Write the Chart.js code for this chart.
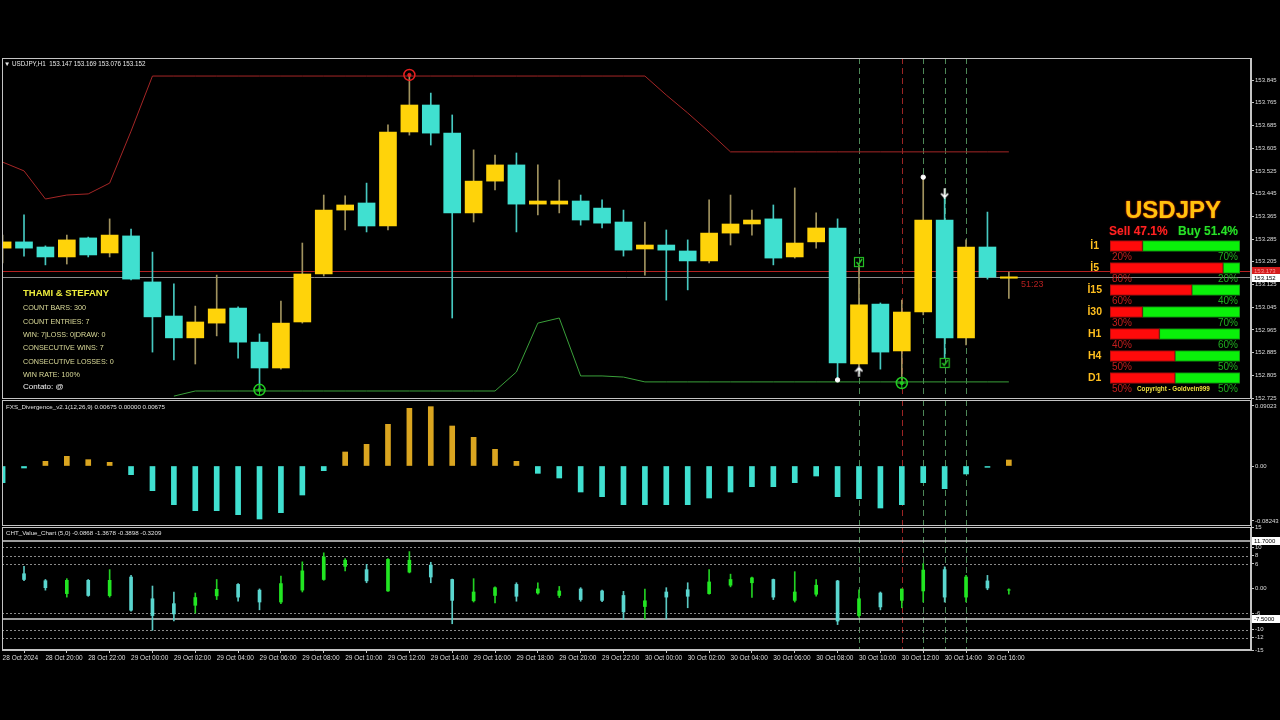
<!DOCTYPE html>
<html>
<head>
<meta charset="utf-8">
<title>USDJPY,H1</title>
<script src="https://cdn.jsdelivr.net/npm/chart.js@4.4.1/dist/chart.umd.min.js"></script>
<style>
  html, body { margin: 0; padding: 0; background: #000; width: 1280px; height: 720px; overflow: hidden; }
  canvas { position: absolute; }
  .txt { position: absolute; font-family: "Liberation Sans", Arial, sans-serif; white-space: nowrap; line-height: 1; }
  .info { color: #dcdc9a; font-size: 7.2px; left: 23px; }
</style>
</head>
<body>
<canvas id="mainChart" style="left:0;top:52px" width="1280" height="353"></canvas>
<canvas id="divChart" style="left:0;top:394px" width="1280" height="138"></canvas>
<canvas id="vcChart" style="left:0;top:521px" width="1280" height="143"></canvas>
<canvas id="dashChart" style="left:1085px;top:227.5px" width="157" height="171"></canvas>

<div class="txt" style="left:4px;top:61px;font-size:6.3px;color:#e8e8e8">&#9660; USDJPY,H1&nbsp;&nbsp;153.147 153.169 153.076 153.152</div>
<div class="txt" style="left:6px;top:403.5px;font-size:6.2px;color:#e0e0e0">FXS_Divergence_v2.1(12,26,9) 0.00675 0.00000 0.00675</div>
<div class="txt" style="left:6px;top:529.5px;font-size:6.2px;color:#e0e0e0">CHT_Value_Chart (5,0) -0.0868 -1.3678 -0.3898 -0.3209</div>

<div class="txt" style="left:23px;top:287.8px;font-size:9.5px;font-weight:bold;color:#ecec3c">THAMI &amp; STEFANY</div>
<div class="txt info" style="top:303.8px">COUNT BARS: 300</div>
<div class="txt info" style="top:317.5px">COUNT ENTRIES: 7</div>
<div class="txt info" style="top:330.8px">WIN: 7|LOSS: 0|DRAW: 0</div>
<div class="txt info" style="top:344.2px">CONSECUTIVE WINS: 7</div>
<div class="txt info" style="top:357.5px">CONSECUTIVE LOSSES: 0</div>
<div class="txt info" style="top:370.8px">WIN RATE: 100%</div>
<div class="txt" style="left:23px;top:383.2px;font-size:8px;color:#f4f4f4">Contato: @</div>

<div class="txt" style="left:1021px;top:279.5px;font-size:9px;color:#b32020">51:23</div>

<div class="txt" style="left:1125px;top:198px;font-size:24px;font-weight:bold;color:#ffc20e;text-shadow:0 0 2px #e03000,0 0 1px #c02000">USDJPY</div>
<div class="txt" style="left:1109px;top:225px;font-size:12px;font-weight:bold;color:#ff2222;text-shadow:0 0 1px #600">Sell 47.1%</div>
<div class="txt" style="left:1178px;top:225px;font-size:12px;font-weight:bold;color:#28e028;text-shadow:0 0 1px #050">Buy 51.4%</div>
<div class="txt" style="left:1137px;top:386px;font-size:6.3px;font-weight:bold;color:#f0e040">Copyright - Goldvein999</div>

<script>
"use strict";

// Price candles, H1 bars from 28 Oct 18:00 to 30 Oct 17:00
var OPEN = [153.253, 153.275, 153.257, 153.222, 153.289, 153.236, 153.296, 153.134, 153.014, 152.937,
    152.989, 153.042, 152.922, 152.831, 152.993, 153.162, 153.387, 153.412, 153.331, 153.662,
    153.757, 153.658, 153.377, 153.489, 153.546, 153.408, 153.408, 153.419, 153.394, 153.345,
    153.250, 153.264, 153.243, 153.208, 153.306, 153.338, 153.356, 153.222, 153.275, 153.324,
    152.845, 153.056, 152.891, 153.028, 153.352, 152.937, 153.257, 153.147];
var HIGH = [153.299, 153.370, 153.261, 153.299, 153.292, 153.356, 153.320, 153.239, 153.127, 153.049,
    153.158, 153.046, 152.951, 153.067, 153.271, 153.440, 153.437, 153.482, 153.687, 153.863,
    153.799, 153.722, 153.599, 153.581, 153.588, 153.546, 153.493, 153.440, 153.423, 153.387,
    153.345, 153.317, 153.282, 153.423, 153.440, 153.387, 153.405, 153.465, 153.377, 153.356,
    153.194, 153.060, 153.070, 153.500, 153.437, 153.282, 153.380, 153.169];
var LOW = [153.201, 153.225, 153.194, 153.197, 153.222, 153.222, 153.141, 152.887, 152.859, 152.845,
    152.944, 152.866, 152.761, 152.827, 152.989, 153.155, 153.317, 153.310, 153.317, 153.651,
    153.616, 153.007, 153.345, 153.458, 153.310, 153.370, 153.377, 153.334, 153.324, 153.225,
    153.158, 153.070, 153.106, 153.201, 153.264, 153.299, 153.194, 153.218, 153.253, 152.796,
    152.838, 152.827, 152.789, 153.018, 152.866, 152.912, 153.144, 153.076];
var CLOSE = [153.275, 153.253, 153.222, 153.282, 153.229, 153.299, 153.144, 153.011, 152.937, 152.993,
    153.039, 152.922, 152.831, 152.989, 153.162, 153.387, 153.405, 153.331, 153.662, 153.757,
    153.658, 153.377, 153.489, 153.546, 153.408, 153.419, 153.419, 153.352, 153.341, 153.246,
    153.264, 153.246, 153.208, 153.306, 153.338, 153.352, 153.218, 153.271, 153.324, 152.849,
    153.053, 152.887, 153.028, 153.352, 152.937, 153.257, 153.151, 153.152];

// Channel lines
var UPPER_BAND = [153.556, 153.525, 153.426, 153.440, 153.444, 153.482, 153.665, 153.859, 153.859, 153.859,
    153.859, 153.859, 153.859, 153.859, 153.859, 153.859, 153.859, 153.859, 153.859, 153.859,
    153.859, 153.859, 153.859, 153.859, 153.859, 153.859, 153.859, 153.859, 153.859, 153.859,
    153.859, 153.792, 153.729, 153.662, 153.592, 153.592, 153.592, 153.592, 153.592, 153.592,
    153.592, 153.592, 153.592, 153.592, 153.592, 153.592, 153.592, 153.592];
var LOWER_BAND = [null, null, null, null, null, null, null, null, 152.732, 152.750,
    152.750, 152.750, 152.750, 152.750, 152.750, 152.750, 152.750, 152.750, 152.750, 152.750,
    152.750, 152.750, 152.750, 152.750, 152.817, 152.989, 153.007, 152.803, 152.803, 152.799,
    152.782, 152.782, 152.782, 152.782, 152.782, 152.782, 152.782, 152.782, 152.782, 152.782,
    152.782, 152.782, 152.782, 152.782, 152.782, 152.782, 152.782, 152.782];

// Markers on the price pane
var HIGH_MARK_BAR = [19], HIGH_MARK_PRICE = [153.863];
var LOW_MARK_BAR = [12, 42], LOW_MARK_PRICE = [152.754, 152.778];
var DOT_BAR = [39, 43], DOT_PRICE = [152.789, 153.503];
var ARROW_UP_BAR = [40], ARROW_UP_PRICE = [152.817];
var ARROW_DN_BAR = [44], ARROW_DN_PRICE = [153.447];
var CHECK_BAR = [40, 44], CHECK_PRICE = [153.204, 152.849];

// Vertical signal lines
var SIGNAL_BARS = [40, 42, 43, 44, 45];
var SIGNAL_KIND = ["buy", "sell", "buy", "buy", "buy"];

var ASK_PRICE = 153.173;
var BID_PRICE = 153.152;
var PRICE_TICKS = [152.725, 152.805, 152.885, 152.965, 153.045, 153.125, 153.205, 153.285,
    153.365, 153.445, 153.525, 153.605, 153.685, 153.765, 153.845];

// FXS_Divergence histogram
var HIST = [-0.025, -0.003, 0.007, 0.0145, 0.0095, 0.0055, -0.013, -0.037, -0.058, -0.067,
    -0.067, -0.073, -0.0795, -0.070, -0.0435, -0.007, 0.021, 0.0325, 0.0625, 0.0865,
    0.089, 0.060, 0.043, 0.025, 0.007, -0.011, -0.018, -0.039, -0.046, -0.058,
    -0.058, -0.058, -0.058, -0.048, -0.039, -0.031, -0.031, -0.025, -0.015, -0.046,
    -0.049, -0.063, -0.058, -0.025, -0.034, -0.012, -0.002, 0.009];
var HIST_TICKS = [-0.08243, 0, 0.09023];

// CHT value chart
var VC_OPEN = [null, 3.6, 1.9, -1.25, 2.0, -1.74, 2.8, -2.5, -3.7, -4.1,
    -1.8, 1.0, -0.4, -3.3, -0.4, 2.2, 5.4, 4.6, -0.6, 4.0,
    5.7, 2.2, -3.0, -1.7, 1.0, -1.1, -1.7, 0.0, -0.6, -1.7,
    -4.4, -0.85, -0.3, -1.25, 0.8, 1.4, 2.2, -2.9, -1.4, 1.85,
    -6.6, -1.1, -2.9, -0.6, 4.6, -2.1, 1.85, -0.39];
var VC_HIGH = [null, 5.4, 2.2, 2.4, 2.2, 4.6, 3.2, 0.6, -0.9, -1.1,
    2.2, 1.2, -0.1, 3.0, 6.5, 8.7, 7.3, 5.9, 7.3, 9.0,
    6.4, 2.3, 2.4, 0.4, 1.4, 1.4, 0.5, 0.2, -0.4, -0.7,
    0.0, 0.2, 1.4, 4.6, 3.5, 2.8, 2.3, 4.1, 2.2, 2.0,
    -0.3, -0.85, 0.0, 6.1, 5.3, 3.2, 3.2, -0.09];
var VC_LOW = [null, 1.9, -0.4, -2.1, -1.9, -2.1, -5.5, -10.2, -7.9, -6.0,
    -2.7, -3.1, -5.2, -3.7, -0.85, 2.0, 4.3, 1.4, -0.7, 3.8,
    1.4, -8.6, -3.3, -3.5, -3.1, -1.4, -2.2, -3.1, -3.2, -7.6,
    -7.4, -7.4, -4.7, -1.4, 0.4, -2.2, -2.7, -3.3, -1.9, -8.8,
    -7.0, -5.2, -4.7, -3.3, -3.3, -3.3, -0.3, -1.37];
var VC_CLOSE = [null, 2.2, 0.2, 2.0, -1.7, 2.0, -5.3, -6.6, -6.2, -2.2,
    -0.2, -2.1, -3.3, 1.2, 4.3, 7.7, 6.9, 1.85, 7.1, 6.9,
    2.8, -2.9, -0.85, 0.2, -1.9, -0.1, -0.6, -2.7, -2.9, -5.7,
    -3.0, -2.1, -1.9, 1.6, 2.2, 2.6, -2.1, -0.85, 0.8, -7.95,
    -2.5, -4.5, 0.0, 4.5, -2.1, 2.8, 0.0, -0.32];
var VC_TICKS = [-15, -12, -10, -6, 0, 6, 8, 10, 15];
var VC_DASHED_LEVELS = [10, 8, 6, -6, -10, -12];
var VC_LEVEL_HI = 11.7;
var VC_LEVEL_LO = -7.5;

// Time axis
var TIME_TICK_BARS = [0, 2, 4, 6, 8, 10, 12, 14, 16, 18, 20, 22, 24, 26, 28, 30, 32, 34, 36, 38, 40, 42, 44, 46];
var TIME_LABELS = ["28 Oct 2024", "28 Oct 20:00", "28 Oct 22:00", "29 Oct 00:00", "29 Oct 02:00", "29 Oct 04:00",
    "29 Oct 06:00", "29 Oct 08:00", "29 Oct 10:00", "29 Oct 12:00", "29 Oct 14:00", "29 Oct 16:00",
    "29 Oct 18:00", "29 Oct 20:00", "29 Oct 22:00", "30 Oct 00:00", "30 Oct 02:00", "30 Oct 04:00",
    "30 Oct 06:00", "30 Oct 08:00", "30 Oct 10:00", "30 Oct 12:00", "30 Oct 14:00", "30 Oct 16:00"];

// Dashboard
var TF_LABELS = ["\u01301", "\u01305", "\u013015", "\u013030", "H1", "H4", "D1"];
var SELL_WIDTH = [25, 87, 63, 25, 38, 50, 50];
var BUY_WIDTH = [75, 13, 37, 75, 62, 50, 50];
var SELL_TEXT = ["20%", "80%", "60%", "30%", "40%", "50%", "50%"];
var BUY_TEXT = ["70%", "20%", "40%", "70%", "60%", "50%", "50%"];

var X_MIN = -0.028;
var X_MAX = 58.31;
var FONT = '"Liberation Sans", Arial, sans-serif';
var AXIS_COLOR = "#c4c4c4";

Chart.defaults.font.family = FONT;
Chart.defaults.color = "#dcdcdc";

window.onload = function () {
    createMainChart();
    createDivergenceChart();
    createValueChart();
    createDashboard();
};

function buildCandles(open, high, low, close, colors, bodyWidth, wickWidth) {
    var bodies = [], wicks = [], bodyCol = [], wickCol = [];
    for (let i = 0; i < open.length; i++) {
        if (open[i] === null) continue;
        var up = close[i] >= open[i];
        wicks.push({ x: i, y: [low[i], high[i]] });
        bodies.push({ x: i, y: [open[i], close[i]] });
        bodyCol.push(up ? colors.up : colors.down);
        wickCol.push(up ? colors.upWick : colors.downWick);
    }
    return [
        { type: "bar", data: wicks, backgroundColor: wickCol, barThickness: wickWidth, grouped: false, order: 4 },
        { type: "bar", data: bodies, backgroundColor: bodyCol, barThickness: bodyWidth, grouped: false, order: 3 }
    ];
}

function points(bars, values) {
    var out = [];
    for (let i = 0; i < bars.length; i++) out.push({ x: bars[i], y: values[i] });
    return out;
}

function markerSet(data, style, radius, color, fill, width) {
    return {
        type: "line", data: data, showLine: false, order: 1,
        pointStyle: style, pointRadius: radius, pointBorderColor: color,
        pointBackgroundColor: fill, pointBorderWidth: width
    };
}

function makeArrow(up) {
    var c = document.createElement("canvas");
    c.width = 9; c.height = 11;
    var g = c.getContext("2d");
    g.strokeStyle = "#ffffff";
    g.lineWidth = 1.8;
    g.beginPath();
    if (up) {
        g.moveTo(4.5, 10.5); g.lineTo(4.5, 1.5);
        g.moveTo(1, 5); g.lineTo(4.5, 1.2); g.lineTo(8, 5);
    } else {
        g.moveTo(4.5, 0.5); g.lineTo(4.5, 9.5);
        g.moveTo(1, 6); g.lineTo(4.5, 9.8); g.lineTo(8, 6);
    }
    g.stroke();
    return c;
}

function makeCheck() {
    var c = document.createElement("canvas");
    c.width = 12; c.height = 12;
    var g = c.getContext("2d");
    g.strokeStyle = "#25c025";
    g.lineWidth = 1.2;
    g.strokeRect(1.5, 1.5, 9, 9);
    g.lineWidth = 1.5;
    g.beginPath();
    g.moveTo(3.5, 6); g.lineTo(5.5, 8.5); g.lineTo(9, 3);
    g.stroke();
    return c;
}

// Frame around a pane plus the dashed signal verticals
var framePlugin = {
    id: "frame",
    beforeDatasetsDraw: function (chart) {
        var ctx = chart.ctx, a = chart.chartArea, x = chart.scales.x;
        ctx.save();
        ctx.lineWidth = 1;
        ctx.setLineDash([6, 4]);
        for (let k = 0; k < SIGNAL_BARS.length; k++) {
            var px = Math.round(x.getPixelForValue(SIGNAL_BARS[k])) + 0.5;
            ctx.strokeStyle = SIGNAL_KIND[k] === "sell" ? "#9b2424" : "#4d8757";
            ctx.beginPath();
            ctx.moveTo(px, a.top);
            ctx.lineTo(px, a.bottom);
            ctx.stroke();
        }
        ctx.restore();
    },
    afterDraw: function (chart) {
        var ctx = chart.ctx, a = chart.chartArea;
        ctx.save();
        ctx.strokeStyle = AXIS_COLOR;
        ctx.lineWidth = 1;
        ctx.strokeRect(a.left + 0.5, a.top + 0.5, a.right - a.left - 1, a.bottom - a.top - 1);
        ctx.restore();
    }
};

function axisBox(ctx, a, y, text, bg, fg) {
    ctx.fillStyle = bg;
    ctx.fillRect(a.right + 1, Math.round(y) - 4, 28, 8);
    ctx.fillStyle = fg;
    ctx.font = "6px " + FONT;
    ctx.textAlign = "left";
    ctx.textBaseline = "middle";
    ctx.fillText(text, a.right + 3, Math.round(y));
}

var priceLinesPlugin = {
    id: "priceLines",
    beforeDatasetsDraw: function (chart) {
        var ctx = chart.ctx, a = chart.chartArea, y = chart.scales.y;
        ctx.save();
        ctx.lineWidth = 1;
        ctx.strokeStyle = "#b42020";
        var ya = Math.round(y.getPixelForValue(ASK_PRICE)) + 0.5;
        ctx.beginPath(); ctx.moveTo(a.left, ya); ctx.lineTo(a.right, ya); ctx.stroke();
        ctx.strokeStyle = "#8c8c8c";
        var yb = Math.round(y.getPixelForValue(BID_PRICE)) + 0.5;
        ctx.beginPath(); ctx.moveTo(a.left, yb); ctx.lineTo(a.right, yb); ctx.stroke();
        ctx.restore();
    },
    afterDraw: function (chart) {
        var ctx = chart.ctx, a = chart.chartArea, y = chart.scales.y;
        ctx.save();
        axisBox(ctx, a, y.getPixelForValue(ASK_PRICE), ASK_PRICE.toFixed(3), "#d41c1c", "#ff9a9a");
        axisBox(ctx, a, y.getPixelForValue(BID_PRICE) + 1, BID_PRICE.toFixed(3), "#ffffff", "#000000");
        ctx.restore();
    }
};

function rightAxis(min, max, ticks, fmt) {
    return {
        position: "right", min: min, max: max,
        afterFit: function (s) { s.width = 29; },
        afterBuildTicks: function (s) { s.ticks = ticks.map(function (v) { return { value: v }; }); },
        ticks: { callback: fmt, padding: 1, font: { size: 6 }, color: "#dcdcdc" },
        grid: { drawOnChartArea: false, color: AXIS_COLOR, tickLength: 3 },
        border: { color: AXIS_COLOR }
    };
}

function baseOptions(yAxis, xAxis, padding) {
    return {
        responsive: false, animation: false, events: [],
        layout: { padding: padding, autoPadding: false },
        plugins: { legend: { display: false }, tooltip: { enabled: false } },
        scales: { x: xAxis, y: yAxis }
    };
}

function hiddenX() {
    return { type: "linear", min: X_MIN, max: X_MAX, display: false, offset: false };
}

function createMainChart() {
    var datasets = buildCandles(OPEN, HIGH, LOW, CLOSE,
        { up: "#ffd30a", down: "#40e0d0", upWick: "#a0925e", downWick: "#46c8c0" }, 17, 1);

    datasets.push({
        type: "line", data: UPPER_BAND.map(function (v, i) { return { x: i, y: v }; }),
        borderColor: "#a52626", borderWidth: 1, pointRadius: 0, tension: 0, order: 5
    });
    datasets.push({
        type: "line", data: LOWER_BAND.map(function (v, i) { return { x: i, y: v }; }),
        borderColor: "#3aa03a", borderWidth: 1, pointRadius: 0, tension: 0, order: 5
    });

    var highMarks = points(HIGH_MARK_BAR, HIGH_MARK_PRICE);
    var lowMarks = points(LOW_MARK_BAR, LOW_MARK_PRICE);
    datasets.push(markerSet(highMarks, "circle", 5.5, "#e82020", "rgba(0,0,0,0)", 1.5));
    datasets.push(markerSet(highMarks, "circle", 1.6, "#e82020", "#e82020", 1));
    datasets.push(markerSet(lowMarks, "circle", 5.5, "#22cc22", "rgba(0,0,0,0)", 1.5));
    datasets.push(markerSet(lowMarks, "cross", 5, "#22cc22", "#22cc22", 1));
    datasets.push(markerSet(lowMarks, "circle", 1.6, "#22cc22", "#22cc22", 1));
    datasets.push(markerSet(points(DOT_BAR, DOT_PRICE), "circle", 2.2, "#ffffff", "#ffffff", 1));
    datasets.push(markerSet(points(ARROW_UP_BAR, ARROW_UP_PRICE), makeArrow(true), 5, "#fff", "#fff", 1));
    datasets.push(markerSet(points(ARROW_DN_BAR, ARROW_DN_PRICE), makeArrow(false), 5, "#fff", "#fff", 1));
    datasets.push(markerSet(points(CHECK_BAR, CHECK_PRICE), makeCheck(), 6, "#25c025", "#25c025", 1));

    var yAxis = rightAxis(152.7218, 153.9225, PRICE_TICKS, function (v) { return v.toFixed(3); });
    new Chart(document.getElementById("mainChart"), {
        type: "bar",
        data: { datasets: datasets },
        options: baseOptions(yAxis, hiddenX(), { left: 2, top: 6, bottom: 6 }),
        plugins: [framePlugin, priceLinesPlugin]
    });
}

function createDivergenceChart() {
    var dataset = {
        type: "bar",
        data: HIST.map(function (v, i) { return { x: i, y: v }; }),
        backgroundColor: HIST.map(function (v) { return v >= 0 ? "#daa520" : "#40e0d0"; }),
        barThickness: 5
    };
    var yAxis = rightAxis(-0.0900, 0.0990, HIST_TICKS, function (v) { return v === 0 ? "0.00" : v.toFixed(5); });
    new Chart(document.getElementById("divChart"), {
        type: "bar",
        data: { datasets: [dataset] },
        options: baseOptions(yAxis, hiddenX(), { left: 2, top: 6, bottom: 6 }),
        plugins: [framePlugin]
    });
}

var levelsPlugin = {
    id: "levels",
    beforeDatasetsDraw: function (chart) {
        var ctx = chart.ctx, a = chart.chartArea, y = chart.scales.y;
        ctx.save();
        ctx.lineWidth = 1;
        ctx.strokeStyle = "#8a8a8a";
        ctx.setLineDash([2, 2]);
        VC_DASHED_LEVELS.forEach(function (lv) {
            var py = Math.round(y.getPixelForValue(lv)) + 0.5;
            ctx.beginPath(); ctx.moveTo(a.left, py); ctx.lineTo(a.right, py); ctx.stroke();
        });
        ctx.setLineDash([]);
        ctx.strokeStyle = "#d0d0d0";
        ctx.lineWidth = 1.5;
        [VC_LEVEL_HI, VC_LEVEL_LO].forEach(function (lv) {
            var py = Math.round(y.getPixelForValue(lv));
            ctx.beginPath(); ctx.moveTo(a.left, py); ctx.lineTo(a.right, py); ctx.stroke();
        });
        ctx.restore();
    },
    afterDraw: function (chart) {
        var ctx = chart.ctx, a = chart.chartArea, y = chart.scales.y;
        ctx.save();
        axisBox(ctx, a, y.getPixelForValue(VC_LEVEL_HI), VC_LEVEL_HI.toFixed(4), "#ffffff", "#000000");
        axisBox(ctx, a, y.getPixelForValue(VC_LEVEL_LO), VC_LEVEL_LO.toFixed(4), "#ffffff", "#000000");
        ctx.restore();
    }
};

function createValueChart() {
    var datasets = buildCandles(VC_OPEN, VC_HIGH, VC_LOW, VC_CLOSE,
        { up: "#22e622", down: "#5ad6cf", upWick: "#22d022", downWick: "#5ac8c2" }, 3, 1);
    var yAxis = rightAxis(-15, 15, VC_TICKS, function (v) { return v === 0 ? "0.00" : String(v); });
    var xAxis = {
        type: "linear", min: X_MIN, max: X_MAX, offset: false, position: "bottom",
        afterFit: function (s) { s.height = 14; },
        afterBuildTicks: function (s) { s.ticks = TIME_TICK_BARS.map(function (v) { return { value: v }; }); },
        ticks: {
            autoSkip: false, maxRotation: 0, align: "start", padding: 1,
            font: { size: 6.5 }, color: "#dcdcdc",
            callback: function (v) { return TIME_LABELS[TIME_TICK_BARS.indexOf(v)]; }
        },
        grid: { drawOnChartArea: false, color: AXIS_COLOR, tickLength: 3 },
        border: { color: AXIS_COLOR }
    };
    new Chart(document.getElementById("vcChart"), {
        type: "bar",
        data: { datasets: datasets },
        options: baseOptions(yAxis, xAxis, { left: 2, top: 6 }),
        plugins: [framePlugin, levelsPlugin]
    });
}

var percentPlugin = {
    id: "percent",
    afterDatasetsDraw: function (chart) {
        var ctx = chart.ctx, a = chart.chartArea;
        var meta = chart.getDatasetMeta(0);
        ctx.save();
        ctx.font = "10px " + FONT;
        ctx.textBaseline = "middle";
        meta.data.forEach(function (bar, i) {
            ctx.fillStyle = "#c41e1e";
            ctx.textAlign = "left";
            ctx.fillText(SELL_TEXT[i], a.left + 2, bar.y + 11);
            ctx.fillStyle = "#1fae1f";
            ctx.textAlign = "right";
            ctx.fillText(BUY_TEXT[i], a.right - 2, bar.y + 11);
        });
        ctx.restore();
    }
};

function createDashboard() {
    new Chart(document.getElementById("dashChart"), {
        type: "bar",
        data: {
            labels: TF_LABELS,
            datasets: [
                { data: SELL_WIDTH, backgroundColor: "#ff0a0a", borderColor: "#8c1010", borderWidth: 1, borderSkipped: false, barThickness: 11 },
                { data: BUY_WIDTH, backgroundColor: "#0af00a", borderColor: "#127a12", borderWidth: 1, borderSkipped: false, barThickness: 11 }
            ]
        },
        options: {
            responsive: false, animation: false, events: [], indexAxis: "y",
            layout: { padding: { top: 7, bottom: 10, right: 2 }, autoPadding: false },
            plugins: { legend: { display: false }, tooltip: { enabled: false } },
            scales: {
                x: { stacked: true, min: 0, max: 100, display: false },
                y: {
                    stacked: true,
                    afterFit: function (s) { s.width = 25; },
                    grid: { display: false }, border: { display: false },
                    ticks: { color: "#ffbf1f", crossAlign: "center", padding: 0, font: { size: 10.5, weight: "bold" } }
                }
            }
        },
        plugins: [percentPlugin]
    });
}
</script>
</body>
</html>
